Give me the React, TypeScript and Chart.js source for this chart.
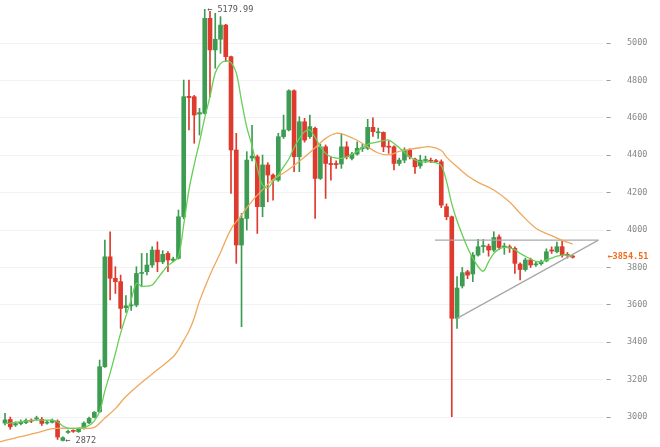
import React, { useEffect, useRef } from "react";
import { Chart, registerables } from "chart.js";

Chart.register(...registerables);

// ---- candle data (index 0..108) ----
const opens = [
  2968, 2987, 2958, 2965, 2970, 2982, 2990, 2988, 2968, 2972,
  2978, 2875, 2918, 2928, 2922, 2940, 2969, 2998, 3028, 3269,
  3857, 3742, 3724, 3585, 3595, 3599, 3768, 3777, 3813, 3893,
  3830, 3875, 3838, 3849, 4071, 4715, 4713, 4620, 4624, 5132,
  4963, 5020, 5096, 4927, 4428, 3920, 4062, 4385, 4392, 4125,
  4348, 4294, 4267, 4499, 4535, 4745, 4392, 4579, 4499, 4544,
  4276, 4445, 4356, 4356, 4353, 4445, 4383, 4406, 4435, 4437,
  4549, 4520, 4522, 4447, 4445, 4356, 4374, 4428, 4379, 4343,
  4372, 4372, 4370, 4365, 4125, 4071, 3528, 3701, 3777, 3765,
  3866, 3912, 3914, 3893, 3963, 3909, 3909, 3902, 3818, 3789,
  3840, 3814, 3820, 3835, 3892, 3884, 3911, 3868, 3861,
];
const highs = [
  3020, 3000, 2975, 2985, 2990, 2990, 3005, 2998, 2980, 2990,
  2985, 2895, 2930, 2932, 2942, 2975, 3000, 3030, 3305, 3946,
  3991, 3804, 3759, 3650, 3700, 3804, 3875, 3875, 3911, 3937,
  3890, 3885, 3855, 4107, 4802, 4802, 4720, 4651, 5179.99, 5170,
  5159, 5141, 5100, 4930, 4517, 4089, 4419, 4560, 4401, 4401,
  4360, 4300, 4517, 4615, 4750, 4750, 4606, 4597, 4615, 4550,
  4460, 4455, 4392, 4370, 4517, 4472, 4415, 4472, 4460, 4592,
  4600, 4545, 4525, 4475, 4450, 4385, 4440, 4435, 4385, 4400,
  4395, 4385, 4378, 4375, 4140, 4075, 3751, 3800, 3785, 3880,
  3950, 3950, 3925, 3991, 3975, 3930, 3920, 3910, 3825, 3850,
  3850, 3830, 3840, 3900, 3910, 3935, 3940, 3880, 3865,
];
const lows = [
  2958, 2935, 2950, 2958, 2965, 2970, 2985, 2955, 2962, 2968,
  2880, 2872, 2912, 2918, 2918, 2935, 2965, 2995, 3025, 3265,
  3626, 3661, 3474, 3560, 3570, 3590, 3697, 3760, 3800, 3777,
  3820, 3777, 3830, 3845, 4060, 4535, 4464, 4508, 4620, 4713,
  4865, 4945, 4900, 4196, 3822, 3483, 4000, 4370, 3982, 4071,
  4151, 4160, 4260, 4490, 4530, 4312, 4312, 4470, 4490, 4062,
  4270, 4169, 4267, 4330, 4330, 4380, 4375, 4400, 4420, 4430,
  4500, 4490, 4419, 4410, 4321, 4345, 4360, 4380, 4303, 4330,
  4360, 4360, 4360, 4120, 4055, 3002, 3474, 3690, 3740, 3724,
  3860, 3880, 3860, 3885, 3895, 3870, 3880, 3768, 3733, 3780,
  3800, 3805, 3812, 3830, 3875, 3878, 3855, 3850, 3850,
];
const closes = [
  2985, 2948, 2965, 2972, 2982, 2978, 2995, 2966, 2972, 2982,
  2893, 2890, 2922, 2924, 2936, 2968, 2993, 3025, 3269, 3857,
  3742, 3724, 3581, 3595, 3600, 3768, 3772, 3813, 3893, 3830,
  3870, 3840, 3845, 4071, 4713, 4708, 4615, 4628, 5132, 4963,
  5020, 5096, 4927, 4428, 3920, 4062, 4374, 4395, 4125, 4348,
  4294, 4267, 4499, 4535, 4745, 4392, 4579, 4481, 4553, 4276,
  4445, 4356, 4350, 4350, 4445, 4392, 4406, 4437, 4440, 4549,
  4526, 4524, 4445, 4443, 4356, 4374, 4428, 4392, 4338, 4374,
  4376, 4368, 4366, 4133, 4071, 3528, 3690, 3772, 3759, 3866,
  3911, 3916, 3893, 3960, 3907, 3913, 3905, 3822, 3789, 3840,
  3813, 3818, 3830, 3884, 3888, 3911, 3866, 3865, 3854.51,
];

// short moving average, read per candle
const maFast = [
  2965, 2968, 2972, 2975, 2978, 2982, 2984, 2984, 2983, 2984,
  2975, 2952, 2941, 2940, 2941, 2945, 2955, 2980, 3028, 3140,
  3235, 3340, 3449, 3540, 3626, 3715, 3700, 3700, 3706, 3740,
  3777, 3810, 3830, 3857, 4029, 4215, 4350, 4470, 4600, 4713,
  4840, 4890, 4905, 4895, 4840, 4690, 4550, 4450, 4330, 4240,
  4225, 4260, 4295, 4338, 4380, 4440, 4490, 4525, 4535, 4495,
  4445, 4410, 4392, 4385, 4383, 4392, 4405, 4420, 4440, 4458,
  4466, 4472, 4478, 4481, 4463, 4440, 4415, 4392, 4375, 4365,
  4365, 4365, 4360, 4345, 4260, 4140, 4050, 3975, 3905, 3850,
  3805, 3780, 3830, 3875, 3898, 3907, 3905, 3895, 3875, 3860,
  3845, 3832, 3830, 3840, 3850, 3860, 3866, 3866, 3860,
];

// long moving average, read at these candle indices
const maSlowIdx = [
  -1, 0, 3, 6, 9, 12, 15, 17, 19, 21, 23, 26, 29, 32, 33, 34, 35, 36, 37, 39,
  41, 43, 45, 47, 49, 51, 53, 55, 57, 59, 61, 63, 65, 67, 69, 71, 73, 75, 77, 79,
  81, 83, 84, 86, 88, 90, 93, 96, 98, 101, 104, 106, 108,
];
const maSlowVal = [
  2866, 2875, 2895, 2915, 2938, 2940, 2940, 2945, 2995, 3045, 3110, 3185, 3253, 3323, 3360, 3410, 3460, 3530, 3620, 3760,
  3880, 4005, 4080, 4155, 4215, 4270, 4305, 4345, 4390, 4440, 4490, 4517, 4505, 4480, 4445, 4412, 4402, 4420, 4432, 4440,
  4445, 4425, 4390, 4338, 4290, 4255, 4214, 4150, 4090, 4010, 3970, 3945, 3925,
];

// triangle pattern
const triTopIdx = [81.8, 112.9];
const triTopVal = [3946, 3946];
const triLowIdx = [86, 112.9];
const triLowVal = [3528, 3946];

const yTicks = [3000, 3200, 3400, 3600, 3800, 4000, 4200, 4400, 4600, 4800, 5000];

const GREEN = "#3d9c52";
const RED = "#de3a2e";
const MONO = '"DejaVu Sans Mono", monospace';

const notesPlugin = {
  id: "priceNotes",
  afterDatasetsDraw(chart: any) {
    const { ctx, scales, chartArea } = chart;
    const x = scales.x;
    const y = scales.y;
    const hiVal = Math.max(...highs);
    const hiIdx = highs.indexOf(hiVal);
    const loVal = Math.min(...lows);
    const loIdx = lows.indexOf(loVal);
    const last = closes[closes.length - 1];
    ctx.save();
    ctx.textBaseline = "middle";
    ctx.textAlign = "left";
    ctx.font = "8.5px " + MONO;
    ctx.fillStyle = "#555";
    ctx.fillText("← " + hiVal.toFixed(2), x.getPixelForValue(hiIdx) + 2.5, y.getPixelForValue(hiVal));
    ctx.fillText("← " + String(loVal), x.getPixelForValue(loIdx) + 2.5, y.getPixelForValue(loVal));
    ctx.font = "bold 8.5px " + MONO;
    ctx.fillStyle = "#f26b1d";
    ctx.fillText("←" + last.toFixed(2), chartArea.right + 4.5, y.getPixelForValue(last));
    ctx.restore();
  },
};

export default function App() {
  const ref = useRef<HTMLCanvasElement>(null);
  useEffect(() => {
    const idx = opens.map((_, i) => i);
    const colors = idx.map((i) => (closes[i] >= opens[i] ? GREEN : RED));
    const chart = new Chart(ref.current as HTMLCanvasElement, {
      type: "bar",
      data: {
        datasets: [
          {
            type: "line",
            data: maFast.map((v, i) => ({ x: i, y: v })),
            borderColor: "#66cf55",
            borderWidth: 1.3,
            pointRadius: 0,
            tension: 0.35,
            order: 0,
          } as any,
          {
            type: "line",
            data: maSlowIdx.map((v, k) => ({ x: v, y: maSlowVal[k] })),
            borderColor: "#efa85c",
            borderWidth: 1.3,
            pointRadius: 0,
            tension: 0.4,
            order: 0,
          } as any,
          {
            type: "line",
            data: triTopIdx.map((v, k) => ({ x: v, y: triTopVal[k] })),
            borderColor: "#a8a8a8",
            borderWidth: 1.3,
            pointRadius: 0,
            tension: 0,
            order: 0,
          } as any,
          {
            type: "line",
            data: triLowIdx.map((v, k) => ({ x: v, y: triLowVal[k] })),
            borderColor: "#a8a8a8",
            borderWidth: 1.3,
            pointRadius: 0,
            tension: 0,
            order: 0,
          } as any,
          {
            type: "bar",
            data: idx.map((i) => ({ x: i, y: [opens[i], closes[i]] })),
            backgroundColor: colors,
            barThickness: 4,
            minBarLength: 1,
            grouped: false,
            borderWidth: 0,
            order: 1,
          } as any,
          {
            type: "bar",
            data: idx.map((i) => ({ x: i, y: [lows[i], highs[i]] })),
            backgroundColor: colors,
            barThickness: 1,
            grouped: false,
            borderWidth: 0,
            order: 2,
          } as any,
        ],
      },
      options: {
        responsive: false,
        animation: false,
        layout: { padding: 0 },
        plugins: { legend: { display: false }, tooltip: { enabled: false } },
        scales: {
          x: {
            type: "linear",
            display: false,
            offset: false,
            min: -0.951,
            max: 113.77,
            grid: { offset: false },
          },
          y: {
            type: "linear",
            position: "right",
            min: 2840,
            max: 5230,
            border: { display: false },
            grid: {
              color: "#f2f2f2",
              lineWidth: 1,
              drawTicks: true,
              tickLength: 14,
              tickColor: "#9a9a9a",
              tickBorderDash: [0, 3.5, 4, 100],
            },
            ticks: {
              padding: 10,
              color: "#888",
              font: { family: "DejaVu Sans Mono", size: 8.5 },
              callback: (v: any) => String(v),
            },
            afterBuildTicks: (s: any) => {
              s.ticks = yTicks.map((v) => ({ value: v }));
            },
            afterFit: (s: any) => {
              s.width = 57;
              s.paddingTop = 0;
              s.paddingBottom = 0;
            },
          } as any,
        },
      } as any,
      plugins: [notesPlugin],
    });
    return () => chart.destroy();
  }, []);
  return (
    <div style={{ position: "fixed", left: 0, top: 0, width: 660, height: 447, background: "#fff" }}>
      <canvas ref={ref} width={660} height={447} style={{ display: "block" }} />
    </div>
  );
}
